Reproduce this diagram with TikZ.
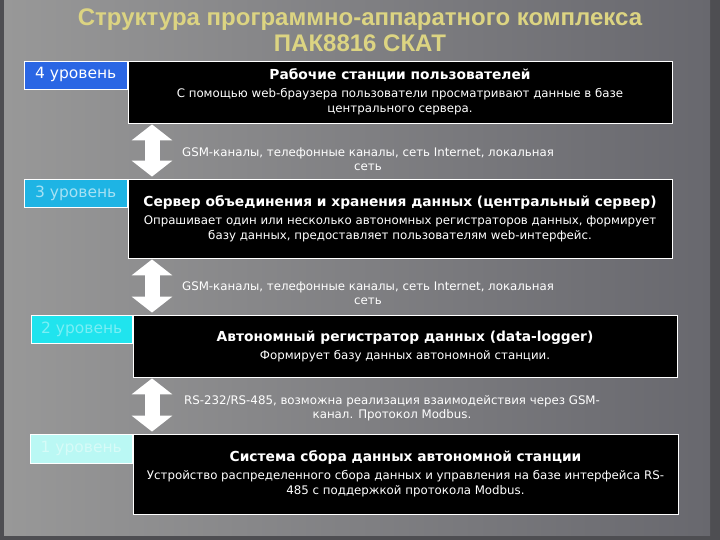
\documentclass[tikz,border=0pt]{standalone}
\usepackage{fontspec}
\setmainfont{DejaVu Sans}
\newfontfamily\titlefont{Liberation Sans}
\usetikzlibrary{arrows.meta}

\definecolor{bgdark}{RGB}{78,78,82}
\definecolor{bgleft}{RGB}{152,152,152}
\definecolor{bgright}{RGB}{104,104,110}
\definecolor{titlecol}{RGB}{220,212,130}
\definecolor{levfour}{RGB}{42,102,228}
\definecolor{levthree}{RGB}{30,180,228}
\definecolor{levtwo}{RGB}{32,228,238}
\definecolor{levone}{RGB}{186,248,244}

\newcommand\stagetitle{\bfseries\fontsize{13.8}{15}\selectfont}

\tikzset{
  levelbox/.style={draw=white, line width=0.7pt, inner sep=0pt,
    anchor=north east, minimum width=103pt, minimum height=28pt,
    font=\fontsize{15.5}{17}\selectfont},
  stagebox/.style={draw=white, fill=black, line width=0.8pt, inner sep=0pt,
    text=white, align=center, font=\fontsize{11.8}{15}\selectfont},
  linktext/.style={text=white, align=center, font=\fontsize{11.8}{14.5}\selectfont},
  updown/.style={draw=white, line width=15pt,
    {Triangle[width=40pt,length=16pt]}-{Triangle[width=40pt,length=16pt]}},
}

\begin{document}
\begin{tikzpicture}[x=1pt,y=-1pt]
\useasboundingbox (0,0) rectangle (720,540);
% background
\fill[bgdark] (0,0) rectangle (720,540);
\shade[left color=bgleft, right color=bgright] (4,0) rectangle (710,535);

% title
\node[text=titlecol, align=center, font=\titlefont\bfseries\fontsize{24}{26}\selectfont]
  (title) at (360,30) {Структура программно-аппаратного комплекса\\ПАК8816 СКАТ};

% stages
\node[stagebox, minimum width=544pt, minimum height=62pt] (s4) at (400,92)
  {{\stagetitle Рабочие станции пользователей}\\[3pt]
   С помощью web-браузера пользователи просматривают данные в базе\\
   центрального сервера.};
\node[stagebox, minimum width=544pt, minimum height=79pt] (s3) at (400,218.5)
  {{\stagetitle Сервер объединения и хранения данных (центральный сервер)}\\[3pt]
   Опрашивает один или несколько автономных регистраторов данных, формирует\\
   базу данных, предоставляет пользователям web-интерфейс.};
\node[stagebox, minimum width=544pt, minimum height=62pt] (s2) at (405,346)
  {{\stagetitle Автономный регистратор данных (data-logger)}\\[3pt]
   Формирует базу данных автономной станции.};
\node[stagebox, minimum width=545pt, minimum height=80pt] (s1) at (405.5,474)
  {{\stagetitle Система сбора данных автономной станции}\\[3pt]
   Устройство распределенного сбора данных и управления на базе интерфейса RS-\\
   485 с поддержкой протокола Modbus.};

% levels
\node[levelbox, fill=levfour, text=white] (l4) at (s4.north west) {4 уровень};
\node[levelbox, fill=levthree, text=levthree!40!white] (l3) at (s3.north west) {3 уровень};
\node[levelbox, fill=levtwo, text=levtwo!60!white, minimum width=101pt] (l2) at (s2.north west) {2 уровень};
\node[levelbox, fill=levone, text=levone!60!white, minimum height=29pt, minimum width=102pt] (l1) at (s1.north west) {1 уровень};

% links
\coordinate (ax) at (152,0);
\draw[updown, shorten <=1pt, shorten >=2pt] (s4.south -| ax) -- (s3.north -| ax);
\draw[updown, shorten <=1pt, shorten >=2pt] (s3.south -| ax) -- (s2.north -| ax);
\draw[updown, shorten <=1pt, shorten >=2pt] (s2.south -| ax) -- (s1.north -| ax);
\node[linktext] (k43) at (368,159)
  {GSM-каналы, телефонные каналы, сеть Internet, локальная\\сеть};
\node[linktext] (k32) at (368,293)
  {GSM-каналы, телефонные каналы, сеть Internet, локальная\\сеть};
\node[linktext] (k21) at (392,408)
  {RS-232/RS-485, возможна реализация взаимодействия через GSM-\\канал. Протокол Modbus.};
\end{tikzpicture}
\end{document}
